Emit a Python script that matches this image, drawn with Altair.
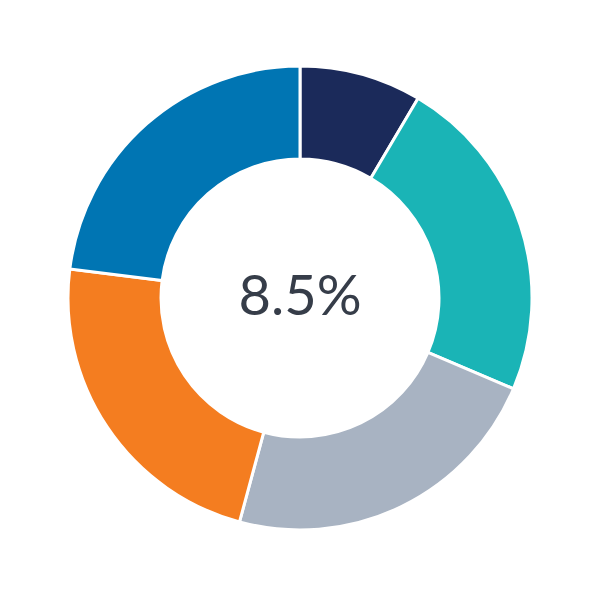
import altair as alt
import pandas as pd

categories = ["A", "B", "C", "D", "E"]
values = [8.5, 22.9, 22.8, 22.8, 23.0]
colors = ["#1b2a5a", "#1ab4b6", "#a8b3c2", "#f47d20", "#0075b3"]
center_label = "8.5%"

df = pd.DataFrame({"cat": categories, "val": values, "order": list(range(len(values)))})

arcs = alt.Chart(df).mark_arc(outerRadius=232, innerRadius=139, stroke="white", strokeWidth=3).encode(
    theta=alt.Theta("val:Q", stack=True),
    color=alt.Color("cat:N", scale=alt.Scale(domain=categories, range=colors), legend=None),
    order=alt.Order("order:Q"),
)

text = alt.Chart(pd.DataFrame({"t": [center_label]})).mark_text(
    font="Lato", fontSize=56, fontWeight=400, color="#363d49", align="center", baseline="middle"
).encode(text="t:N", x=alt.value(292), y=alt.value(290))

chart = alt.layer(arcs, text).properties(
    width=584, height=580, autosize=alt.AutoSizeParams(type="none"), padding=0
).configure_view(stroke=None)

chart.save("out.html", embed_options={"renderer": "svg", "actions": False})
